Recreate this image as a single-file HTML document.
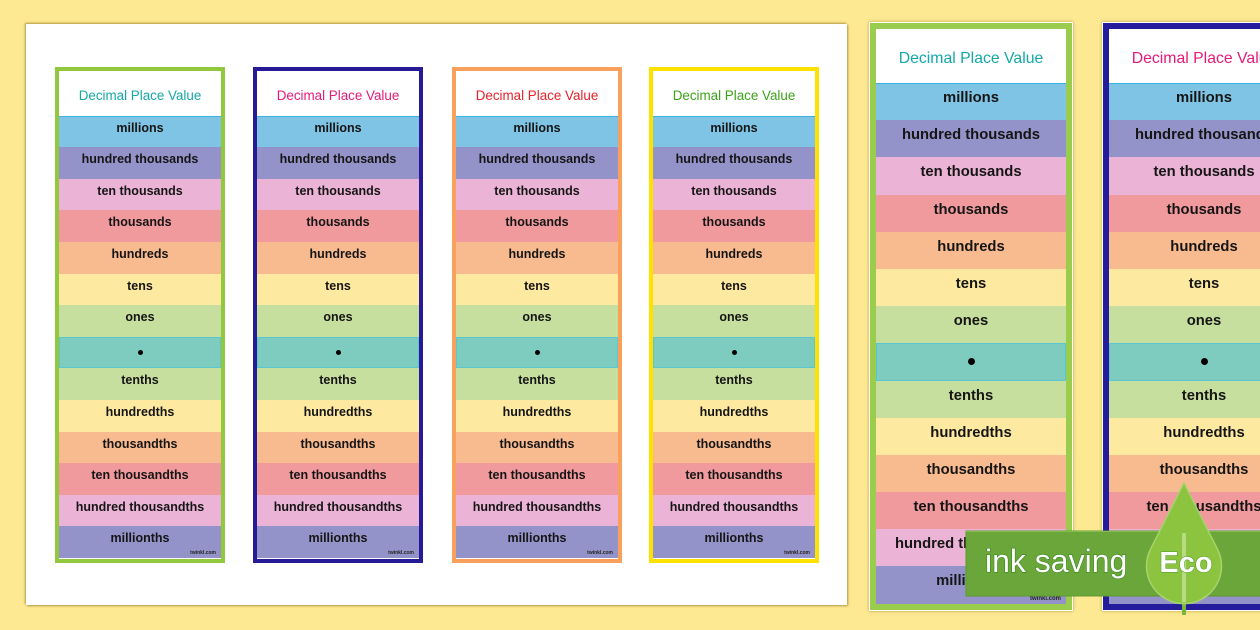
<!DOCTYPE html>
<html><head><meta charset="utf-8">
<style>
*{margin:0;padding:0}
html,body{width:1260px;height:630px;overflow:hidden;background:#fde992;position:relative;font-family:"Liberation Sans",sans-serif}
.panel{position:absolute;left:26px;top:24px;width:821px;height:581px;background:#fff;box-shadow:-1px -1px 2px rgba(120,95,0,.55),1px 1px 2px rgba(120,95,0,.55)}
.sc{position:absolute;top:66.7px;width:170px;height:496.4px;box-sizing:border-box;border:4.5px solid;background:#fff}
.sc .h{height:45px;line-height:49px;text-align:center;font-size:13.4px}
.sc .r{height:31.6px;line-height:25.6px;text-align:center;font-size:12.5px;font-weight:bold;color:#151515;position:relative}
.bc{position:absolute;top:23px;width:202px;height:587px;box-sizing:border-box;border:6px solid;background:#fff;box-shadow:0 0 0 1px #fff,0 0 3px 1px rgba(120,95,0,.5)}
.bc .h{height:54px;line-height:60px;text-align:center;font-size:15.8px}
.bc .r{height:37.2px;line-height:30.2px;text-align:center;font-size:14.8px;font-weight:bold;color:#151515;position:relative}
.c1{background:#7fc4e4;box-shadow:inset 0 1px 0 #3cb2e2}
.c2{background:#9493c9}
.c3{background:#ebb3d5}
.c4{background:#f19a9d}
.c5{background:#f8ba8f}
.c6{background:#fde9a0}
.c7{background:#c6df9e}
.c8{background:#7ecbbf;box-shadow:inset 0 0 0 1px #5cc6d0}
.dot{position:absolute;left:50%;top:50%;width:5px;height:5px;margin:-2.5px 0 0 -2.5px;border-radius:50%;background:#000}
.bc .dot{width:7px;height:7px;margin:-3.5px 0 0 -3.5px}
.tw{position:absolute;right:5px;bottom:2px;font-size:5px;line-height:6px;font-weight:bold;color:#222}
.bc .tw{font-size:6px;bottom:2px}
</style></head><body>
<div class="panel"></div>

<div class="sc" style="left:55px;border-color:#92c83e">
<div class="h" style="color:#14a8a8">Decimal Place Value</div>
<div class="r c1">millions</div><div class="r c2">hundred thousands</div><div class="r c3">ten thousands</div><div class="r c4">thousands</div><div class="r c5">hundreds</div><div class="r c6">tens</div><div class="r c7">ones</div><div class="r c8"><span class="dot"></span></div><div class="r c7">tenths</div><div class="r c6">hundredths</div><div class="r c5">thousandths</div><div class="r c4">ten thousandths</div><div class="r c3">hundred thousandths</div><div class="r c2">millionths<span class="tw">twinkl.com</span></div>
</div>

<div class="sc" style="left:253px;border-color:#261a96">
<div class="h" style="color:#e6197a">Decimal Place Value</div>
<div class="r c1">millions</div><div class="r c2">hundred thousands</div><div class="r c3">ten thousands</div><div class="r c4">thousands</div><div class="r c5">hundreds</div><div class="r c6">tens</div><div class="r c7">ones</div><div class="r c8"><span class="dot"></span></div><div class="r c7">tenths</div><div class="r c6">hundredths</div><div class="r c5">thousandths</div><div class="r c4">ten thousandths</div><div class="r c3">hundred thousandths</div><div class="r c2">millionths<span class="tw">twinkl.com</span></div>
</div>

<div class="sc" style="left:452px;border-color:#f9a15c">
<div class="h" style="color:#e8202a">Decimal Place Value</div>
<div class="r c1">millions</div><div class="r c2">hundred thousands</div><div class="r c3">ten thousands</div><div class="r c4">thousands</div><div class="r c5">hundreds</div><div class="r c6">tens</div><div class="r c7">ones</div><div class="r c8"><span class="dot"></span></div><div class="r c7">tenths</div><div class="r c6">hundredths</div><div class="r c5">thousandths</div><div class="r c4">ten thousandths</div><div class="r c3">hundred thousandths</div><div class="r c2">millionths<span class="tw">twinkl.com</span></div>
</div>

<div class="sc" style="left:649px;border-color:#fde200">
<div class="h" style="color:#3aa318">Decimal Place Value</div>
<div class="r c1">millions</div><div class="r c2">hundred thousands</div><div class="r c3">ten thousands</div><div class="r c4">thousands</div><div class="r c5">hundreds</div><div class="r c6">tens</div><div class="r c7">ones</div><div class="r c8"><span class="dot"></span></div><div class="r c7">tenths</div><div class="r c6">hundredths</div><div class="r c5">thousandths</div><div class="r c4">ten thousandths</div><div class="r c3">hundred thousandths</div><div class="r c2">millionths<span class="tw">twinkl.com</span></div>
</div>

<div class="bc" style="left:870px;border-color:#9acd4e">
<div class="h" style="color:#14a8a8">Decimal Place Value</div>
<div class="r c1">millions</div><div class="r c2">hundred thousands</div><div class="r c3">ten thousands</div><div class="r c4">thousands</div><div class="r c5">hundreds</div><div class="r c6">tens</div><div class="r c7">ones</div><div class="r c8"><span class="dot"></span></div><div class="r c7">tenths</div><div class="r c6">hundredths</div><div class="r c5">thousandths</div><div class="r c4">ten thousandths</div><div class="r c3">hundred thousandths</div><div class="r c2">millionths<span class="tw">twinkl.com</span></div>
</div>

<div class="bc" style="left:1103px;border-color:#241c9a">
<div class="h" style="color:#e6197a">Decimal Place Value</div>
<div class="r c1">millions</div><div class="r c2">hundred thousands</div><div class="r c3">ten thousands</div><div class="r c4">thousands</div><div class="r c5">hundreds</div><div class="r c6">tens</div><div class="r c7">ones</div><div class="r c8"><span class="dot"></span></div><div class="r c7">tenths</div><div class="r c6">hundredths</div><div class="r c5">thousandths</div><div class="r c4">ten thousandths</div><div class="r c3">hundred thousandths</div><div class="r c2">millionths<span class="tw">twinkl.com</span></div>
</div>

<svg style="position:absolute;left:0;top:0" width="1260" height="630" viewBox="0 0 1260 630">
<rect x="966" y="531" width="300" height="65" fill="#6ba63a" stroke="#5e9a2e" stroke-width="1"/>
<line x1="966" y1="531.5" x2="1260" y2="531.5" stroke="#86bd4f" stroke-width="1"/>
<text x="985" y="572" font-family="Liberation Sans, sans-serif" font-size="32" fill="#fff" stroke="#3a8a1e" stroke-width="1.2" paint-order="stroke">ink saving</text>
<line x1="1184" y1="600" x2="1184" y2="615" stroke="#7ab83c" stroke-width="4"/>
<path d="M1184,483 L1150.6,549 A37.5,37.5 0 1,0 1217.4,549 Z" fill="#8cc440" stroke="#a4d46a" stroke-width="1.5"/>
<line x1="1184" y1="533" x2="1184" y2="602" stroke="#c9e6a0" stroke-width="4" opacity="0.7"/>
<text x="1186" y="572" text-anchor="middle" font-family="Liberation Sans, sans-serif" font-size="29" font-weight="bold" fill="#fff" stroke="#4a9a24" stroke-width="1" paint-order="stroke">Eco</text>
</svg>
</body></html>
